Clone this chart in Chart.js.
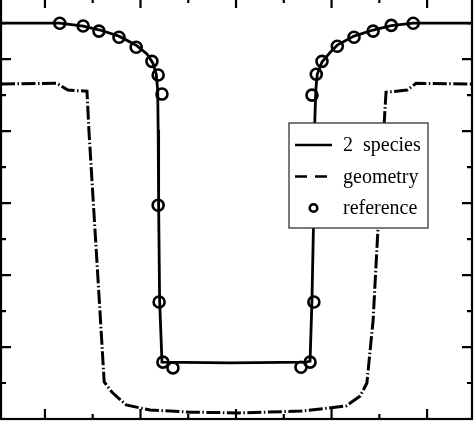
<!DOCTYPE html>
<html>
<head>
<meta charset="utf-8">
<script src="https://cdn.jsdelivr.net/npm/chart.js@4.4.1/dist/chart.umd.min.js"></script>
<style>
    html, body { margin: 0; padding: 0; background: #fff; overflow: hidden; }
    #wrap { position: absolute; left: 0; top: -4px; width: 474px; height: 425px; }
</style>
</head>
<body>
<div id="wrap"><canvas id="myChart" width="474" height="425"></canvas></div>
<script>
'use strict'
// values (x and y as fractions of the plotted domain)
let seriesNames = ['2  species', 'geometry', 'reference'];

let speciesX = [0.008, 0.09, 0.131, 0.18, 0.215, 0.255, 0.291, 0.314, 0.326, 0.333, 0.336, 0.337, 0.338, 0.340, 0.345,
    0.487, 0.647, 0.655, 0.659, 0.663, 0.665, 0.667, 0.670, 0.680, 0.697, 0.712, 0.747, 0.787, 0.825, 0.871, 0.994];
let speciesY = [1.1, 1.1, 1.1, 1.092, 1.081, 1.064, 1.039, 1.014, 0.989, 0.958, 0.914, 0.803, 0.594, 0.331, 0.158,
    0.156, 0.158, 0.161, 0.331, 0.594, 0.831, 0.914, 0.958, 0.992, 1.019, 1.039, 1.064, 1.081, 1.093, 1.1, 1.1];

let geometryX = [0.008, 0.125, 0.148, 0.188, 0.192, 0.215, 0.224, 0.24, 0.27, 0.32, 0.404,
    0.508, 0.636, 0.73, 0.76, 0.774, 0.787, 0.797, 0.814, 0.858, 0.877, 0.994];
let geometryY = [0.931, 0.933, 0.914, 0.911, 0.803, 0.303, 0.103, 0.075, 0.039, 0.025, 0.019,
    0.017, 0.022, 0.036, 0.064, 0.1, 0.275, 0.525, 0.908, 0.914, 0.933, 0.931];

let referenceX = [0.131, 0.18, 0.213, 0.255, 0.291, 0.324, 0.337, 0.345, 0.337, 0.339, 0.347, 0.368,
    0.636, 0.655, 0.663, 0.668, 0.659, 0.668, 0.68, 0.712, 0.747, 0.787, 0.825, 0.871];
let referenceY = [1.1, 1.092, 1.078, 1.061, 1.033, 0.994, 0.956, 0.903, 0.594, 0.325, 0.158, 0.142,
    0.144, 0.158, 0.325, 0.594, 0.9, 0.958, 0.994, 1.036, 1.061, 1.078, 1.094, 1.1];

let xMajorTicks = [0.1, 0.3, 0.5, 0.7, 0.9];
let xMinorTicks = [0.2, 0.4, 0.6, 0.8];
let yMajorTicks = [0.2, 0.4, 0.6, 0.8, 1.0];
let yMinorTicks = [0.1, 0.3, 0.5, 0.7, 0.9, 1.1];

function toPoints(xs, ys) {
    let pts = [];
    for (let i = 0; i < xs.length; i++) {
        pts.push({ x: xs[i], y: ys[i] });
    }
    return pts;
}

// box with inward ticks on all four sides
const frameTicks = {
    id: 'frameTicks',
    afterDatasetsDraw(chart, args, opts) {
        const ctx = chart.ctx;
        const a = chart.chartArea;
        const x = chart.scales.x;
        const y = chart.scales.y;

        function xMarks(list, len) {
            list.forEach(function (v) {
                let px = x.getPixelForValue(v);
                ctx.moveTo(px, a.bottom); ctx.lineTo(px, a.bottom - len);
                ctx.moveTo(px, a.top); ctx.lineTo(px, a.top + len);
            });
        }
        function yMarks(list, len) {
            list.forEach(function (v) {
                let py = y.getPixelForValue(v);
                ctx.moveTo(a.left, py); ctx.lineTo(a.left + len, py);
                ctx.moveTo(a.right, py); ctx.lineTo(a.right - len, py);
            });
        }

        ctx.save();
        ctx.strokeStyle = opts.color;
        ctx.lineWidth = opts.width;
        ctx.beginPath();
        xMarks(xMajorTicks, opts.major);
        xMarks(xMinorTicks, opts.minor);
        yMarks(yMajorTicks, opts.major);
        yMarks(yMinorTicks, opts.minor);
        ctx.stroke();
        ctx.strokeRect(a.left, a.top, a.right - a.left, a.bottom - a.top);
        ctx.restore();
    }
};

// legend in a white box inside the plot
const boxLegend = {
    id: 'boxLegend',
    afterDraw(chart, args, o) {
        const ctx = chart.ctx;
        ctx.save();
        ctx.fillStyle = '#fff';
        ctx.fillRect(o.left, o.top, o.width, o.height);
        ctx.strokeStyle = '#333';
        ctx.lineWidth = 1.3;
        ctx.strokeRect(o.left, o.top, o.width, o.height);
        ctx.font = o.font;
        ctx.textBaseline = 'middle';
        chart.data.datasets.forEach(function (ds, i) {
            let yy = o.top + o.firstRow + i * o.rowGap;
            ctx.strokeStyle = '#000';
            ctx.fillStyle = '#000';
            ctx.lineWidth = 2.6;
            if (ds.showLine === false) {
                ctx.beginPath();
                ctx.arc(o.left + o.sampleX + o.sampleW / 2, yy, 3.8, 0, Math.PI * 2);
                ctx.stroke();
            } else {
                ctx.setLineDash(ds.legendDash || []);
                ctx.beginPath();
                ctx.moveTo(o.left + o.sampleX, yy);
                ctx.lineTo(o.left + o.sampleX + o.sampleW, yy);
                ctx.stroke();
                ctx.setLineDash([]);
            }
            ctx.fillText(ds.label, o.left + o.textX, yy + 1);
        });
        ctx.restore();
    }
};

let ctx = document.getElementById('myChart');
let myChart = new Chart(ctx, {
    type: 'scatter',
    data: {
        datasets: [{
            label: seriesNames[0],
            data: toPoints(speciesX, speciesY),
            showLine: true,
            borderColor: '#000',
            borderWidth: 2.8,
            pointRadius: 0,
            tension: 0
        },
        {
            label: seriesNames[1],
            data: toPoints(geometryX, geometryY),
            showLine: true,
            borderColor: '#000',
            borderWidth: 3,
            borderDash: [14, 2.5, 1.5, 2.5],
            legendDash: [12, 8],
            pointRadius: 0,
            tension: 0
        },
        {
            label: seriesNames[2],
            data: toPoints(referenceX, referenceY),
            showLine: false,
            borderColor: '#000',
            backgroundColor: 'rgba(0,0,0,0)',
            pointStyle: 'circle',
            pointRadius: 5.5,
            pointBorderWidth: 2.6
        }]
    },
    options: {
        responsive: false,
        animation: false,
        layout: { autoPadding: false, padding: { left: 1, right: 2, top: 2, bottom: 2 } },
        scales: {
            x: { type: 'linear', min: 0.008, max: 0.994, display: false },
            y: { type: 'linear', min: 0, max: 1.17, display: false }
        },
        plugins: {
            legend: { display: false },
            tooltip: { enabled: false },
            frameTicks: { color: '#000', width: 2.2, major: 10, minor: 5 },
            boxLegend: {
                left: 289, top: 127, width: 139, height: 105,
                firstRow: 22, rowGap: 31.5,
                sampleX: 6, sampleW: 37, textX: 54,
                font: '20px "Liberation Serif", "DejaVu Serif", serif'
            }
        }
    },
    plugins: [frameTicks, boxLegend]
});
</script>
</body>
</html>
